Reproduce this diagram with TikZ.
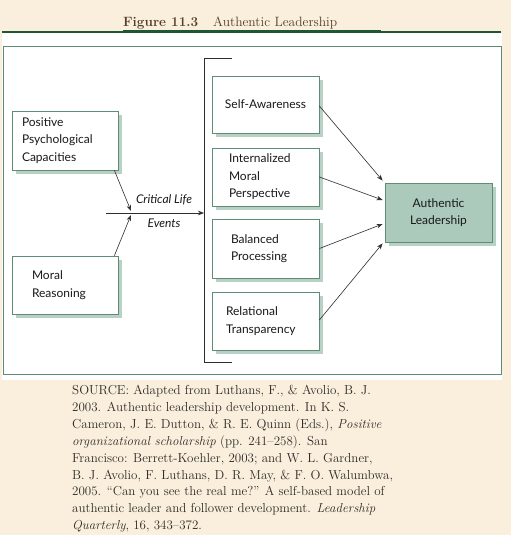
\documentclass[tikz,border=0pt]{standalone}
\usepackage{fontspec}
\newfontfamily\boxfont{Lato}
\usetikzlibrary{arrows.meta,shadows,calc}
\definecolor{cream}{RGB}{250,239,220}
\definecolor{titlebrown}{RGB}{84,62,40}
\definecolor{darkgreen}{RGB}{28,88,52}
\definecolor{boxline}{RGB}{95,140,118}
\definecolor{shadowgreen}{RGB}{185,208,196}
\definecolor{alfill}{RGB}{172,202,187}
\definecolor{srcgray}{RGB}{45,43,40}
\definecolor{linegray}{RGB}{45,45,45}
\tikzset{
  card/.style={draw=boxline, line width=0.8pt, fill=white, rectangle,
    drop shadow={shadow xshift=4pt, shadow yshift=-4pt, fill=shadowgreen, opacity=1},
    font=\boxfont\fontsize{12}{17.5}\selectfont, text=black!90, align=left, inner ysep=0pt},
  conn/.style={draw=linegray, line width=0.6pt, -{Stealth[length=6pt,width=4.5pt]}},
  brk/.style={draw=linegray, line width=0.7pt},
  lbl/.style={font=\boxfont\itshape\fontsize{12}{14}\selectfont, text=black!90}
}
\begin{document}
\begin{tikzpicture}[x=1pt,y=-1pt]
\useasboundingbox (0,0) rectangle (511,535);
\fill[cream] (0,0) rectangle (511,535);
\fill[white] (2,33) rectangle (502,380);
\draw[boxline, line width=0.8pt] (3,46) rectangle (501,374);
% title
\node[anchor=base west, inner sep=0pt, text=titlebrown, font=\rmfamily\fontsize{13.5}{16}\selectfont] (title) at (123,27)
  {\textbf{Figure 11.3}\hspace{15pt}Authentic Leadership};
\draw[darkgreen, line width=0.9pt] (123,30) -- (381,30);
\draw[darkgreen, line width=2pt] (2,32.5) -- (501,32.5);
% bracket
\coordinate (bt) at (232,58);
\coordinate (btl) at (204,58);
\coordinate (bbl) at (204,362);
\coordinate (bb) at (232,362);
\draw[brk] (bt) -- (btl) -- (bbl) -- (bb);
% boxes
\node[card, inner xsep=10pt, text width=86pt, minimum height=59pt] (ppc) at (65,140.5)
  {Positive\\Psychological\\Capacities};
\node[card, inner xsep=20pt, text width=66pt, minimum height=58pt] (mr) at (65,285)
  {Moral\\Reasoning};
\node[card, align=center, inner xsep=0pt, text width=107pt, minimum height=57pt] (sa) at (265.5,104.5)
  {Self-Awareness};
\node[card, inner xsep=17pt, text width=73pt, minimum height=58pt] (imp) at (265.5,177)
  {Internalized\\Moral\\Perspective};
\node[card, inner xsep=19pt, text width=69pt, minimum height=59pt] (bp) at (265.5,248.5)
  {Balanced\\Processing};
\node[card, inner xsep=14pt, text width=79pt, minimum height=58pt] (rt) at (265.5,321)
  {Relational\\Transparency};
\node[card, fill=alfill, align=center, inner xsep=0pt, text width=107pt, minimum height=59pt] (al) at (438.5,212.5)
  {Authentic\\Leadership};
% critical life events
\coordinate (cl0) at (106,213);
\coordinate (cl1) at (204,213);
\coordinate (j1) at (131,211);
\coordinate (j2) at (131,215);
\draw[conn] (cl0) -- (cl1);
\draw[conn] ([xshift=-4pt]ppc.south east) -- (j1);
\draw[conn] ([xshift=-4pt]mr.north east) -- (j2);
\node[lbl] (cle) at (164,200) {Critical Life};
\node[lbl] (ev) at (164,223) {Events};
% arrows to AL
\draw[conn] ([yshift=-1.5pt]sa.east) -- ([xshift=-2pt,yshift=2pt]al.north west);
\draw[conn] (imp.east) -- ([xshift=-2pt,yshift=12.5pt]al.west);
\draw[conn] (bp.east) -- ([xshift=-2pt,yshift=-11.5pt]al.west);
\draw[conn] ([yshift=1pt]rt.east) -- ([xshift=-2pt,yshift=-1pt]al.south west);
% source
\node[anchor=north west, inner sep=0pt, align=left, text=srcgray, font=\rmfamily\fontsize{13}{16.9}\selectfont] (src) at (72,385)
  {SOURCE: Adapted from Luthans, F., \& Avolio, B. J.\\
   2003. Authentic leadership development. In K. S.\\
   Cameron, J. E. Dutton, \& R. E. Quinn (Eds.), \textit{Positive}\\
   \textit{organizational scholarship} (pp. 241–258). San\\
   Francisco: Berrett-Koehler, 2003; and W. L. Gardner,\\
   B. J. Avolio, F. Luthans, D. R. May, \& F. O. Walumbwa,\\
   2005. “Can you see the real me?” A self-based model of\\
   authentic leader and follower development. \textit{Leadership}\\
   \textit{Quarterly}, 16, 343–372.};
\end{tikzpicture}
\end{document}
